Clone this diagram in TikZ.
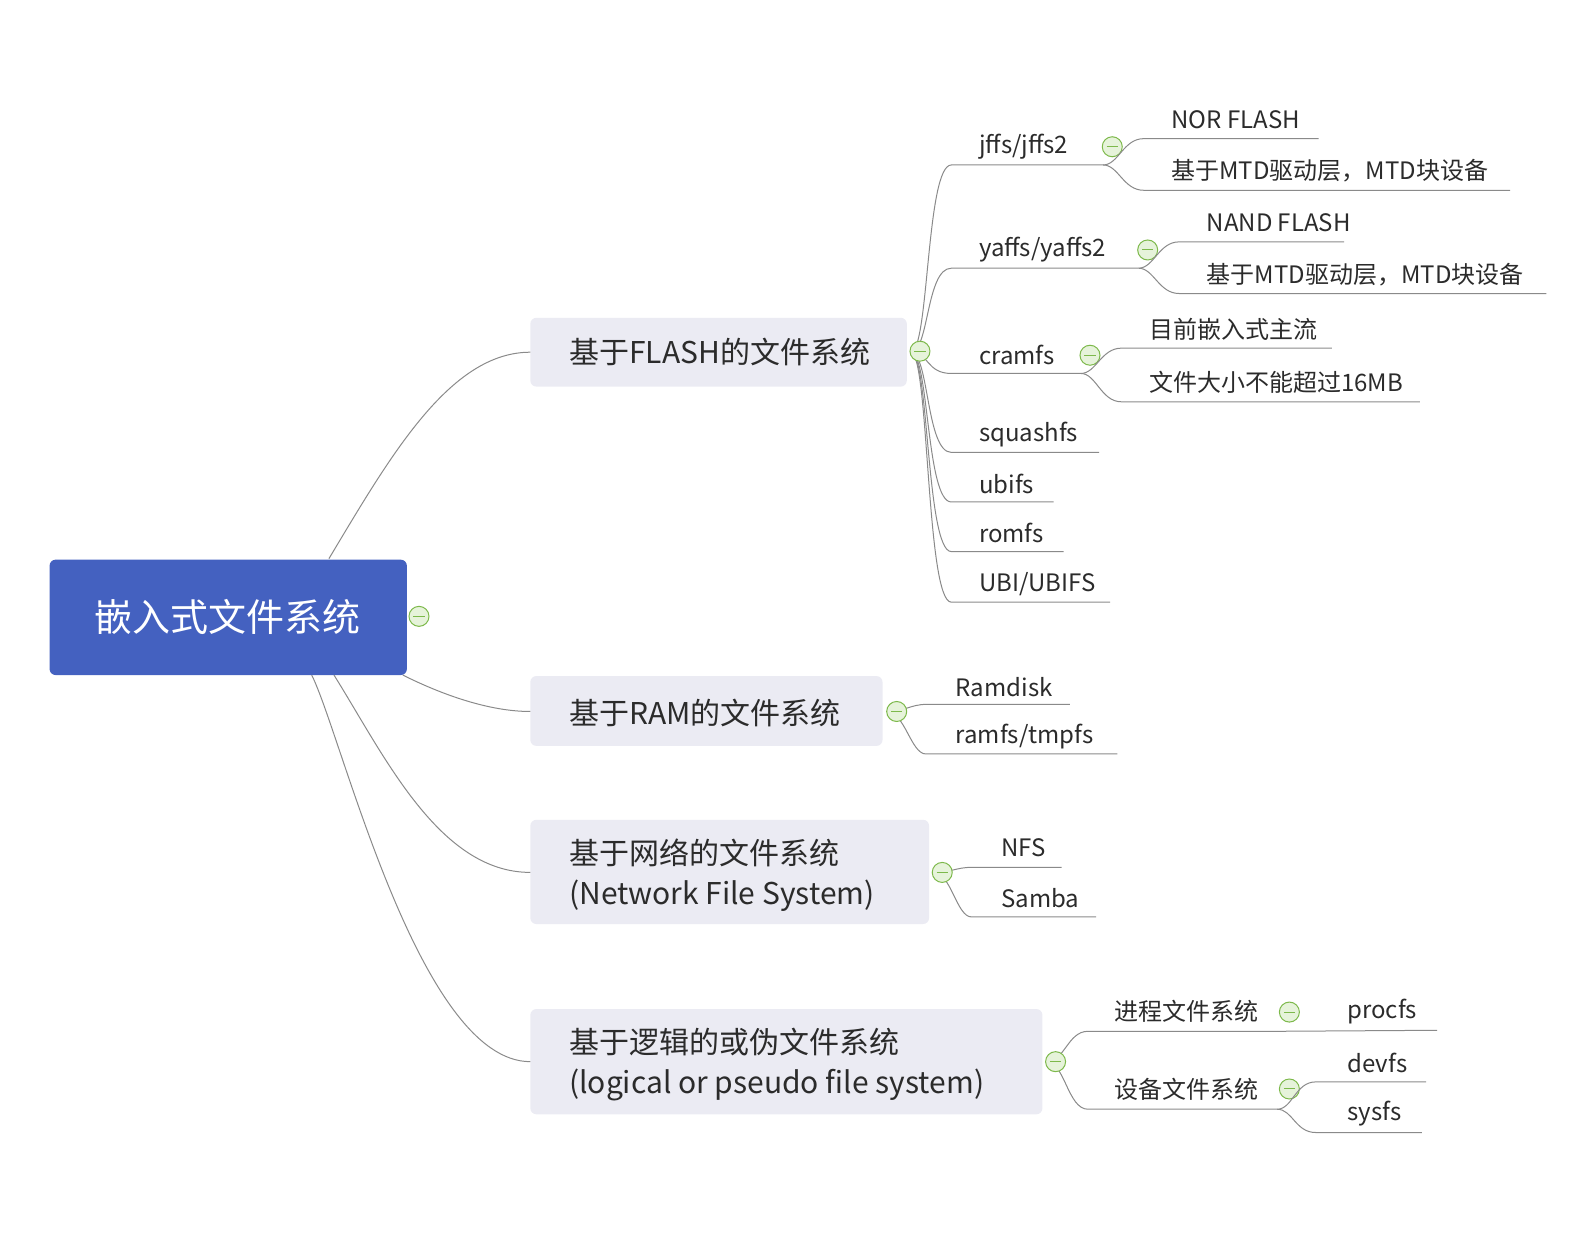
\documentclass[tikz,border=0pt]{standalone}
\usepackage{fontspec}
\setmainfont{Noto Sans CJK SC}
\begin{document}
\begin{tikzpicture}[x=0.506pt,y=-0.506pt,
  brt/.style={anchor=west,font=\fontsize{15}{20}\selectfont,align=left,text=txt,inner sep=0},
  lf/.style={anchor=west,font=\fontsize{12}{14}\selectfont,text=txt,inner sep=0},
  ln/.style={draw=lgray,line width=0.5pt},
  col/.style={circle,draw=cgreen,fill=cfill,minimum size=10pt,inner sep=0,line width=0.5pt,
    path picture={\draw[cgreen,line width=0.5pt] ([xshift=-2.8pt]path picture bounding box.center) -- ([xshift=2.8pt]path picture bounding box.center);}}]
\definecolor{rootblue}{HTML}{4461C0}
\definecolor{brgray}{HTML}{EBEBF3}
\definecolor{lgray}{HTML}{8A8A8A}
\definecolor{cgreen}{HTML}{7DB94B}
\definecolor{cfill}{HTML}{E6F3DA}
\definecolor{txt}{HTML}{2B2B2B}
\useasboundingbox (0,0) rectangle (1575,1227);
% root
\draw[fill=rootblue,draw=none,rounded corners=3pt] (49,553) rectangle (402,667);
\node[text=white,font=\fontsize{19}{22}\selectfont] (root) at (225,610) {嵌入式文件系统};
\node[col] (c0) at (414,609) {};
% branch boxes
\fill[brgray,rounded corners=3pt] (524,314) rectangle (896,382);
\fill[brgray,rounded corners=3pt] (524,668) rectangle (872,737);
\fill[brgray,rounded corners=3pt] (524,810) rectangle (918,913);
\fill[brgray,rounded corners=3pt] (524,997) rectangle (1030,1101);
\node[brt] (b1) at (562,348) {基于FLASH的文件系统};
\node[brt] (b2) at (562,704) {基于RAM的文件系统};
\node[brt] (b3) at (562,865) {基于网络的文件系统\\ (Network File System)};
\node[brt] (b4) at (562,1052) {基于逻辑的或伪文件系统\\(logical or pseudo file system)};
\coordinate (b1w) at (524,348); \coordinate (b2w) at (524,703);
\coordinate (b3w) at (524,862); \coordinate (b4w) at (524,1049);
\coordinate (r1) at (325,552); \coordinate (r2) at (398,667);
\coordinate (r3) at (330,667); \coordinate (r4) at (308,667);
\draw[ln] (r1) .. controls +(60,-100) and +(-80,0) .. (b1w);
\draw[ln] (r2) .. controls +(40,20) and +(-40,0) .. (b2w);
\draw[ln] (r3) .. controls +(50,80) and +(-90,0) .. (b3w);
\draw[ln] (r4) .. controls +(30,60) and +(-110,0) .. (b4w);
% B1 children
\coordinate (p1) at (900,348);
\foreach \n/\t/\y/\e in {j/jffs\slash jffs2/145/1090, y/yaffs\slash yaffs2/247/1125, c/cramfs/351/1068, s/squashfs/429/1086, u/ubifs/478/1041, r/romfs/527/1051, U/UBI\slash UBIFS/577/1097}{
  \node[lf] (t\n) at (967,\y) {\t};
  \coordinate (s\n) at (940,\y+18); \coordinate (e\n) at (\e,\y+18);
  \draw[ln] (p1) .. controls +(18,0) and +(-25,0) .. (s\n) -- (e\n);
}
\node[col] (c1) at (909,347) {};
\node[col] (cj) at (1099,145) {};
\node[col] (cy) at (1134,247) {};
\node[col] (cc) at (1077,351) {};
\foreach \p/\n/\t/\x/\y/\sx/\e in {j/a/NOR FLASH/1157/118/1130/1303, j/b/基于MTD驱动层，MTD块设备/1157/169/1130/1492,
 y/a/NAND FLASH/1192/220/1165/1328, y/b/基于MTD驱动层，MTD块设备/1192/271/1165/1528,
 c/a/目前嵌入式主流/1135/325/1108/1316, c/b/文件大小不能超过16MB/1135/378/1108/1403}{
  \node[lf] (t\p\n) at (\x,\y) {\t};
  \coordinate (s\p\n) at (\sx,\y+19); \coordinate (e\p\n) at (\e,\y+19);
  \draw[ln] (e\p) .. controls +(15,0) and +(-20,0) .. (s\p\n) -- (e\p\n);
}
% B2
\coordinate (p2) at (876,703);
\foreach \n/\t/\y/\e in {a/Ramdisk/679/1057, b/ramfs\slash tmpfs/728/1104}{
  \node[lf] (t2\n) at (944,\y) {\t};
  \coordinate (s2\n) at (915,\y+17); \coordinate (e2\n) at (\e,\y+17);
  \draw[ln] (p2) .. controls +(18,0) and +(-15,0) .. (s2\n) -- (e2\n);
}
\node[col] (c2) at (886,703) {};
% B3
\coordinate (p3) at (922,862);
\foreach \n/\t/\y/\e in {a/NFS/838/1049, b/Samba/887/1083}{
  \node[lf] (t3\n) at (989,\y) {\t};
  \coordinate (s3\n) at (960,\y+19); \coordinate (e3\n) at (\e,\y+19);
  \draw[ln] (p3) .. controls +(18,0) and +(-15,0) .. (s3\n) -- (e3\n);
}
\node[col] (c3) at (931,862) {};
% B4
\coordinate (p4) at (1034,1049);
\foreach \n/\t/\y in {a/进程文件系统/999, b/设备文件系统/1076}{
  \node[lf] (t4\n) at (1101,\y) {\t};
  \coordinate (s4\n) at (1075,\y+20); \coordinate (e4\n) at (1262,\y+20);
  \draw[ln] (p4) .. controls +(18,0) and +(-20,0) .. (s4\n) -- (e4\n);
}
\node[col] (c4) at (1043,1049) {};
\node[col] (c4a) at (1274,1000) {};
\node[col] (c4b) at (1274,1076) {};
\node[lf] (tpr) at (1331,999) {procfs};
\coordinate (epr) at (1420,1018);
\draw[ln] (e4a) -- (epr);
\foreach \n/\t/\y/\e in {d/devfs/1050/1409, s/sysfs/1100/1405}{
  \node[lf] (t5\n) at (1331,\y) {\t};
  \coordinate (s5\n) at (1300,\y+19); \coordinate (e5\n) at (\e,\y+19);
  \draw[ln] (e4b) .. controls +(15,0) and +(-20,0) .. (s5\n) -- (e5\n);
}
\end{tikzpicture}
\end{document}
